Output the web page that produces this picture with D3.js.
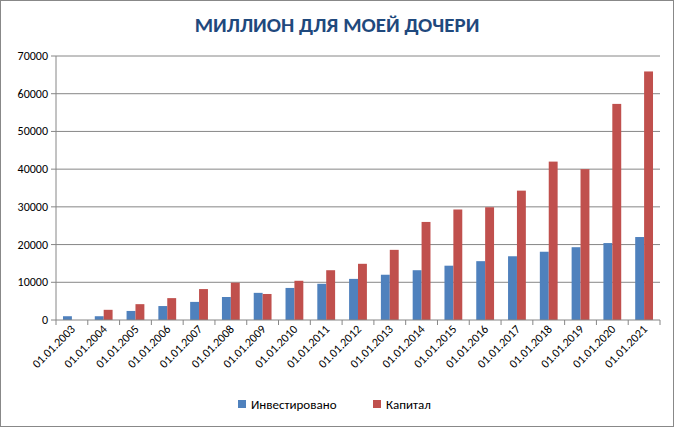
<!DOCTYPE html><html><head><meta charset="utf-8"><script src="https://d3js.org/d3.v7.min.js"></script>
<style>body{margin:0;background:#fff}</style></head><body><div id="c"></div><script>
const categories=["01.01.2003","01.01.2004","01.01.2005","01.01.2006","01.01.2007","01.01.2008","01.01.2009","01.01.2010","01.01.2011","01.01.2012","01.01.2013","01.01.2014","01.01.2015","01.01.2016","01.01.2017","01.01.2018","01.01.2019","01.01.2020","01.01.2021"];
const invested=[1000,1000,2400,3700,4800,6100,7200,8500,9600,10900,12000,13200,14400,15600,16900,18100,19300,20400,22000];
const capital=[0,2700,4200,5800,8200,9900,6900,10400,13200,14900,18600,26000,29300,29900,34300,42000,40000,57300,65900];
const yTicks=[0,10000,20000,30000,40000,50000,60000,70000];
const W=674,H=427;
const svg=d3.select("#c").append("svg").attr("width",W).attr("height",H).style("font-family","Calibri, Carlito, 'Liberation Sans', sans-serif");
svg.append("rect").attr("x",0.5).attr("y",0.5).attr("width",W-1).attr("height",H-1).attr("fill","#fff").attr("stroke","#888");
svg.append("text").attr("x",W/2).attr("y",32).attr("text-anchor","middle").attr("font-size",21).attr("font-weight","bold").attr("fill","#1F497D").text("МИЛЛИОН ДЛЯ МОЕЙ ДОЧЕРИ");
const x0=56,x1=660,yT=56,yB=320;
const x=d3.scaleBand().domain(categories).range([x0,x1]);
const y=d3.scaleLinear().domain([0,70000]).range([yB,yT]);
const g=svg.append("g");
yTicks.forEach(t=>{ if(t>0) g.append("line").attr("x1",x0).attr("x2",x1).attr("y1",y(t)).attr("y2",y(t)).attr("stroke","#868686");
 g.append("line").attr("x1",x0-5).attr("x2",x0).attr("y1",y(t)).attr("y2",y(t)).attr("stroke","#868686");
 g.append("text").attr("x",x0-8).attr("y",y(t)+4).attr("text-anchor","end").attr("font-size",12).attr("fill","#000").text(t);});
const bw=x.bandwidth()*0.28;
categories.forEach((c,i)=>{const cx=x(c)+x.bandwidth()/2;
 g.append("rect").attr("x",cx-bw).attr("y",y(invested[i])).attr("width",bw).attr("height",yB-y(invested[i])).attr("fill","#4F81BD");
 g.append("rect").attr("x",cx).attr("y",y(capital[i])).attr("width",bw).attr("height",yB-y(capital[i])).attr("fill","#C0504D");
 g.append("text").attr("transform",`translate(${cx+4},${yB+10}) rotate(-45)`).attr("text-anchor","end").attr("font-size",12).text(c);
});
categories.concat([null]).forEach((c,i)=>{const xx=x0+i*x.step();g.append("line").attr("x1",xx).attr("x2",xx).attr("y1",yB).attr("y2",yB+5).attr("stroke","#868686");});
g.append("line").attr("x1",x0).attr("x2",x0).attr("y1",yT).attr("y2",yB).attr("stroke","#868686");
g.append("line").attr("x1",x0).attr("x2",x1).attr("y1",yB).attr("y2",yB).attr("stroke","#868686");
const leg=[["Инвестировано","#4F81BD",238],["Капитал","#C0504D",373]];
leg.forEach(([t,col,lx])=>{svg.append("rect").attr("x",lx).attr("y",400).attr("width",8).attr("height",8).attr("fill",col);
 svg.append("text").attr("x",lx+13).attr("y",409).attr("font-size",13).text(t);});
</script></body></html>
